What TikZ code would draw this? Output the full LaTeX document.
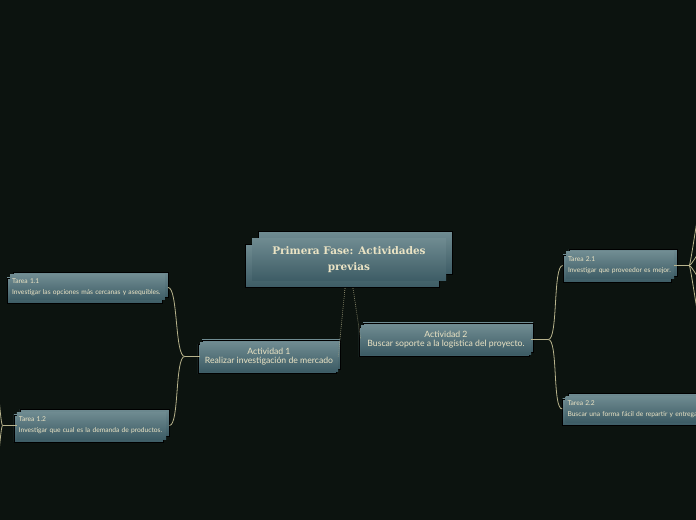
\documentclass[tikz,border=0pt]{standalone}
\usepackage{fontspec}
\setmainfont{Lato}
\newfontfamily\titlefont{DejaVu Serif}
\usetikzlibrary{shadows,calc}
\hyphenpenalty=10000

\definecolor{mapbg}{HTML}{0C130F}
\definecolor{boxtop}{HTML}{6F8B91}
\definecolor{boxbot}{HTML}{3D5C65}
\definecolor{ink}{HTML}{EAE3C4}
\definecolor{twig}{HTML}{B8B38C}

\tikzset{
  box/.style={top color=boxtop, bottom color=boxbot, text=ink, inner ysep=0pt},
  layers/.style={
    copy shadow={shadow xshift=#1, shadow yshift=#1, top color=boxtop, bottom color=boxbot, opacity=1},
    copy shadow={shadow xshift=-#1, shadow yshift=-#1, top color=boxtop, bottom color=boxbot, opacity=1}},
  mainbox/.style={box, layers=4.8pt, minimum width=145.5pt, minimum height=32pt, align=center, font=\titlefont\bfseries\fontsize{7.85}{12}\selectfont},
  actbox/.style={box, layers=1.6pt, minimum height=21.75pt, align=center, font=\fontsize{6.5}{6.75}\selectfont},
  taskbox/.style={box, layers=2.2pt, inner xsep=1.5pt, align=left, font=\fontsize{5}{8.25}\selectfont},
  link/.style={draw=twig, densely dotted, line width=0.5pt},
  branch/.style={draw=twig, line width=0.6pt},
}

\begin{document}
\begin{tikzpicture}[x=0.75pt,y=0.75pt,yscale=-1]
    % background
    \fill [mapbg] (0,0) rectangle (696,520);
    \useasboundingbox (0,0) rectangle (696,520);
    \clip (0,0) rectangle (696,520);

    % Main topic
    \node [mainbox] (fase) at (349,259.5) {Primera Fase: Actividades\\previas};
    % Activities
    \node [actbox, minimum width=103.5pt] (act1) at (269,356.5) {Actividad 1\\Realizar investigación de mercado};
    \node [actbox, minimum width=127.5pt] (act2) at (446,339.5) {Actividad 2\\Buscar soporte a la logística del proyecto.};
    % Tasks
    \node [taskbox, text width=113pt, minimum height=18.75pt] (t11) at (87.5,287.5) {Tarea 1.1\\Investigar las opciones más cercanas y asequibles.};
    \node [taskbox, text width=109pt, minimum height=20.25pt] (t12) at (91.5,425.5) {Tarea 1.2\\Investigar que cual es la demanda de productos.};
    \node [taskbox, text width=78pt, minimum height=20.25pt] (t21) at (620,265.5) {Tarea 2.1\\Investigar que proveedor es mejor.};
    \node [taskbox, text width=117.75pt, minimum height=19.5pt] (t22) at (646,409) {Tarea 2.2\\Buscar una forma fácil de repartir y entregar};

    % children out of view
    \coordinate (c121) at (-12,330);
    \coordinate (c122) at (-12,520);
    \coordinate (c211) at (720,120);
    \coordinate (c212) at (715,235);
    \coordinate (c213) at (715,296);
    \coordinate (c214) at (720,410);

    % dotted links from the main topic
    \draw [link] ($(fase.south)+(-4,7)$) -- (act1.east);
    \draw [link] ($(fase.south)+(4,7)$) -- (act2.west);

    % Actividad 1 branch
    \draw [branch] (act1.west) -- ++(-15,0) coordinate (j1);
    \draw [branch] (j1) .. controls +(-10,0) and +(10,0) .. ($(t11.east)+(3,0)$);
    \draw [branch] (j1) .. controls +(-10,0) and +(10,0) .. ($(t12.east)+(3,0)$);
    \draw [branch] (t12.west) -- ++(-14,0) coordinate (j3);
    \draw [branch] (j3) .. controls +(-3,0) and +(8,0) .. (c121);
    \draw [branch] (j3) .. controls +(-3,0) and +(8,0) .. (c122);

    % Actividad 2 branch
    \draw [branch] (act2.east) -- ++(17,0) coordinate (j2);
    \draw [branch] (j2) .. controls +(10,0) and +(-10,0) .. ($(t21.west)+(-3,0)$);
    \draw [branch] (j2) .. controls +(10,0) and +(-10,0) .. ($(t22.west)+(-3,0)$);
    \draw [branch] (t21.east) -- ++(15,0) coordinate (j4);
    \draw [branch] (j4) .. controls +(2,0) and +(-10,0) .. (c211);
    \draw [branch] (j4) .. controls +(3,0) and +(-8,0) .. (c212);
    \draw [branch] (j4) .. controls +(3,0) and +(-8,0) .. (c213);
    \draw [branch] (j4) .. controls +(2,0) and +(-10,0) .. (c214);
\end{tikzpicture}
\end{document}
